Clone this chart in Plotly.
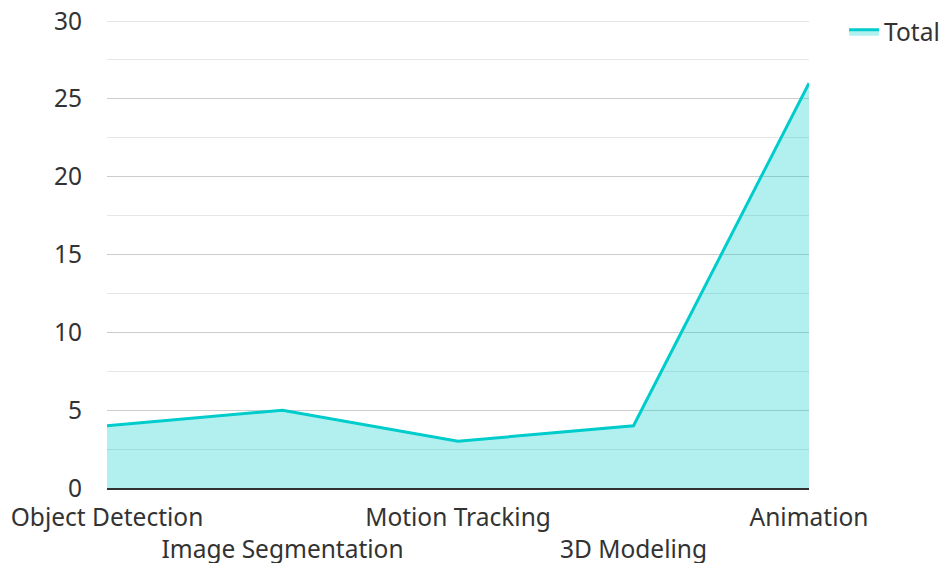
import plotly.graph_objects as go

categories = ["Object Detection", "Image Segmentation", "Motion Tracking", "3D Modeling", "Animation"]
values = [4, 5, 3, 4, 26]
series_name = "Total"
y_ticks = [0, 5, 10, 15, 20, 25, 30]

tick_text = [c if i % 2 == 0 else "<br>" + c for i, c in enumerate(categories)]

fig = go.Figure()
fig.add_trace(go.Scatter(
    x=categories, y=values, name=series_name, mode="lines",
    line=dict(color="#00CCCC", width=3),
    fill="tozeroy", fillcolor="rgba(0,204,204,0.3)",
))

# top gridline at 30 (plotly omits grid lines at the range edge)
fig.add_hline(y=30, line=dict(color="#cccccc", width=1), layer="below")

fig.update_layout(
    width=942, height=555,
    margin=dict(l=99, r=141, t=13, b=75, autoexpand=False),
    paper_bgcolor="white", plot_bgcolor="white",
    font=dict(family="Noto Sans", size=24.5, color="#333333"),
    showlegend=True,
    legend=dict(x=1.05, y=1.025, xanchor="left", yanchor="top",
                font=dict(size=24.5, color="#333333"), bgcolor="rgba(0,0,0,0)"),
    xaxis=dict(
        type="category", range=[0, len(categories) - 1], automargin=False,
        tickmode="array", tickvals=categories, ticktext=tick_text,
        tickangle=0, showgrid=False, showline=True, linecolor="#333333",
        linewidth=2, ticks="", zeroline=False, ticklabelstandoff=7,
        ticklabeloverflow="allow",
    ),
    yaxis=dict(
        range=[0, 30], tickmode="array", tickvals=y_ticks, automargin=False,
        showgrid=True, gridcolor="#cccccc", gridwidth=1,
        minor=dict(dtick=2.5, showgrid=True, gridcolor="#e6e6e6", gridwidth=1),
        zeroline=False, showline=False, ticks="", ticklabelstandoff=24,
        ticklabeloverflow="allow",
    ),
)

fig.write_html("out.html")
